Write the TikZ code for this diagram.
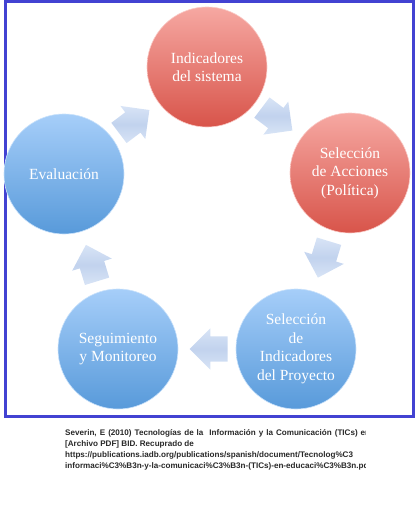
\documentclass[tikz,border=0pt]{standalone}
\usepackage{fontspec}
\setmainfont{Liberation Serif}
\newfontfamily\capfont{Liberation Sans}
\usetikzlibrary{calc, shapes.arrows, positioning}
\definecolor{frameblue}{RGB}{66,66,210}
\definecolor{redtop}{RGB}{246,168,162}
\definecolor{redbot}{RGB}{216,84,74}
\definecolor{bluetop}{RGB}{166,206,249}
\definecolor{bluebot}{RGB}{88,154,218}
\definecolor{arrtop}{RGB}{216,228,246}
\definecolor{arrbot}{RGB}{184,203,234}
\definecolor{captext}{RGB}{40,40,40}

\begin{document}
\begin{tikzpicture}[x=1pt,y=-1pt,
  stepcirc/.style={circle,minimum size=120pt,inner sep=0pt,align=center,text=white,
    font=\fontsize{15.5}{18.5}\selectfont},
  redcirc/.style={stepcirc,top color=redtop,bottom color=redbot,draw=redtop!60!white,line width=0.6pt},
  bluecirc/.style={stepcirc,top color=bluetop,bottom color=bluebot,draw=bluetop!60!white,line width=0.6pt},
  cyclearrow/.style={single arrow,inner sep=12.5pt,minimum height=34pt,single arrow head extend=8pt,
    left color=arrtop,right color=arrtop,middle color=arrbot!70!arrtop,shading angle=0}]
\useasboundingbox (0,0) rectangle (418,520);
\draw[frameblue,line width=3pt] (5.5,1.5) rectangle (413.5,416.5);
% ciclo
\node[redcirc] (sis) at (207,67) {Indicadores\\del sistema};
\node[redcirc] (acc) at (350,173) {Selección\\de Acciones\\(Política)};
\node[bluecirc] (pro) at (296,349) {Selección\\de\\Indicadores\\del Proyecto};
\node[bluecirc] (seg) at (118,349) {Seguimiento\\y Monitoreo};
\node[bluecirc] (eva) at (64,174) {Evaluación};
% flechas
\node[cyclearrow,rotate=37] (f1) at ($(eva)!0.5!(sis)!8pt!(eva)$) {};
\node[cyclearrow,rotate=-37] (f2) at ($(sis)!0.5!(acc)!8pt!(sis)$) {};
\node[cyclearrow,rotate=-107] (f3) at ($(acc)!0.5!(pro)!8pt!(acc)$) {};
\node[cyclearrow,rotate=180] (f4) at ($(pro)!0.5!(seg)!8pt!(pro)$) {};
\node[cyclearrow,rotate=107] (f5) at ($(seg)!0.5!(eva)!8pt!(seg)$) {};
% fuente
\begin{scope}
\clip (0,420) rectangle (365,480);
\node[anchor=north west,inner sep=0pt,align=left,text=captext,
  font=\capfont\bfseries\fontsize{8.1}{11}\selectfont] (fuente) at (65,429)
  {\makebox[305pt][s]{Severin, E (2010) Tecnologías de la\ \ Información y la Comunicación (TICs) en}\\
   {[}Archivo PDF{]} BID. Recuprado de\\
   https://publications.iadb.org/publications/spanish/document/Tecnolog\%C3\\
   informaci\%C3\%B3n-y-la-comunicaci\%C3\%B3n-(TICs)-en-educaci\%C3\%B3n.pd};
\end{scope}
\end{tikzpicture}
\end{document}
